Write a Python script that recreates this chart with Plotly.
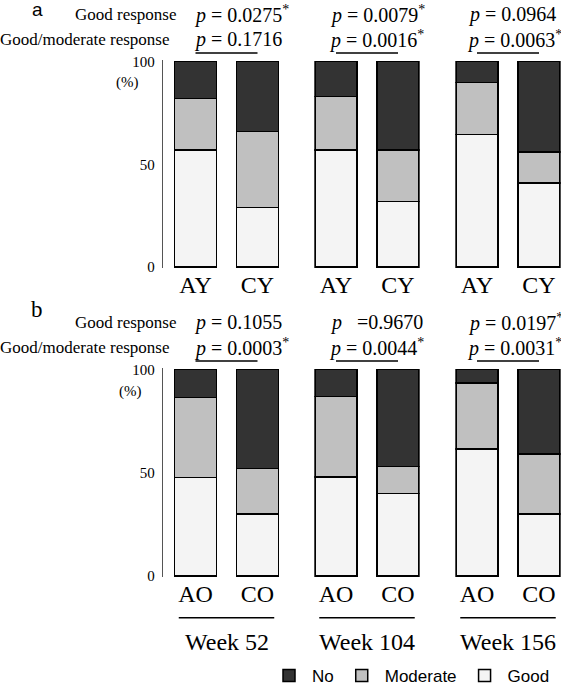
import plotly.graph_objects as go

# Response rates (%)
weeks = ["Week 52", "Week 104", "Week 156"]
groups_a = ["AY", "CY"]
groups_b = ["AO", "CO"]

good_a = [[57, 29], [57, 32], [64.5, 41]]
moderate_a = [[25, 37], [26, 25], [25.5, 15]]
no_a = [[18, 34], [17, 43], [10, 44]]

good_b = [[47.6, 30], [48, 40], [61.5, 30]]
moderate_b = [[38.7, 22], [39, 13], [32, 29]]
no_b = [[13.7, 48], [13, 47], [6.5, 41]]

# p-values printed above each week (text after the "p")
p_good_a = ["= 0.0275*", "= 0.0079*", "= 0.0964"]
p_gm_a = ["= 0.1716", "= 0.0016*", "= 0.0063*"]
p_good_b = ["= 0.1055", "\u00a0 =0.9670", "= 0.0197*"]
p_gm_b = ["= 0.0003*", "= 0.0044*", "= 0.0031*"]

W, H = 561, 685
SERIF = "Liberation Serif"
SANS = "Liberation Sans"
colors = {"No": "#333333", "Moderate": "#c0c0c0", "Good": "#f4f4f4"}


def px_x(x):
    return x / W


def px_y(y):
    return 1 - y / H


def p_text(s):
    return "<i>p</i> " + s.replace("*", "<sup>*</sup>")


def note(x, y, text, size, family=SERIF, xanchor="center"):
    return dict(xref="paper", yref="paper", x=px_x(x), y=px_y(y), text=text,
                xanchor=xanchor, yanchor="middle", showarrow=False,
                font=dict(family=family, size=size, color="black"))


fig = go.Figure()

# x domains of the three week columns (pixels)
col_dom = [(173.8, 279.2), (314.3, 419.7), (455.3, 560.7)]
# y domains of the two panels (pixels, top/bottom)
row_dom = [(60.3, 268.4), (368.0, 577.4)]

panels = [
    (groups_a, good_a, moderate_a, no_a),
    (groups_b, good_b, moderate_b, no_b),
]

layout = {}
for r, (groups, good, moderate, no) in enumerate(panels):
    for c in range(3):
        i = r * 3 + c + 1
        xa = "x" if i == 1 else f"x{i}"
        ya = "y" if i == 1 else f"y{i}"
        for name, vals in [("Good", good), ("Moderate", moderate), ("No", no)]:
            fig.add_bar(
                x=groups,
                y=vals[c],
                name=name,
                xaxis=xa,
                yaxis=ya,
                width=0.67,
                marker=dict(color=colors[name], line=dict(color="black", width=1.5)),
                showlegend=(i == 1),
                legendgroup=name,
            )
        layout[f"xaxis{i}"] = dict(
            domain=[px_x(col_dom[c][0]), min(px_x(col_dom[c][1]), 1)],
            range=[-0.35, 1.35],
            anchor=ya,
            showline=False,
            showgrid=False,
            zeroline=False,
            ticks="",
            tickfont=dict(family=SERIF, size=24, color="black"),
            ticklabelstandoff=0,
        )
        layout[f"yaxis{i}"] = dict(
            domain=[px_y(row_dom[r][1]), px_y(row_dom[r][0])],
            range=[-0.7, 100.7],
            anchor="free",
            position=px_x(161.7),
            showgrid=False,
            zeroline=False,
            showline=(c == 0),
            linecolor="#555555",
            linewidth=1,
            showticklabels=(c == 0),
            tickvals=[0, 50, 100],
            ticks="",
            tickfont=dict(family=SERIF, size=15, color="black"),
            ticklabelstandoff=4,
        )

annotations = []
shapes = []

# panel letters
annotations.append(note(37, 9, "a", 19, family=SANS))
annotations.append(note(37, 309, "b", 23))

# (%) under the 100 tick
for xc, yc in [(127, 83), (130.5, 392)]:
    annotations.append(note(xc, yc, "(%)", 15))

# header rows with p-values
header_y = [(15, 39, 53), (322.7, 347.7, 361)]
p_rows = [(p_good_a, p_gm_a), (p_good_b, p_gm_b)]
p_x1 = [192, 328, 466]
p_x2 = [192, 327, 465]
for r in range(2):
    y1, y2, yl = header_y[r]
    annotations.append(note(178.5, y1, "Good response", 17, xanchor="right"))
    annotations.append(note(171, y2, "Good/moderate response", 17, xanchor="right"))
    for c in range(3):
        i = r * 3 + c + 1
        xa = "x" if i == 1 else f"x{i}"
        annotations.append(note(p_x1[c], y1, p_text(p_rows[r][0][c]), 20, xanchor="left"))
        annotations.append(note(p_x2[c], y2, p_text(p_rows[r][1][c]), 20, xanchor="left"))
        shapes.append(dict(type="line", xref=xa, yref="paper", x0=0, x1=1,
                           y0=px_y(yl), y1=px_y(yl), line=dict(color="black", width=1.5)))

# week labels under panel b
for c, wk in enumerate(weeks):
    xa = f"x{4 + c}"
    shapes.append(dict(type="line", xref=xa, yref="paper", x0=-0.27, x1=1.27,
                       y0=px_y(617.7), y1=px_y(617.7), line=dict(color="black", width=1.5)))
    annotations.append(dict(xref=xa, yref="paper", x=0.5, y=px_y(641.5), text=wk,
                            xanchor="center", yanchor="middle", showarrow=False,
                            font=dict(family=SERIF, size=24, color="black")))

fig.update_layout(
    **layout,
    barmode="stack",
    width=W,
    height=H,
    margin=dict(l=0, r=0, t=0, b=0, autoexpand=False),
    paper_bgcolor="white",
    plot_bgcolor="white",
    annotations=annotations,
    shapes=shapes,
    showlegend=True,
    legend=dict(
        orientation="h",
        traceorder="reversed",
        itemwidth=36,
        x=px_x(266),
        xanchor="left",
        y=px_y(676),
        yanchor="middle",
        font=dict(family=SANS, size=17, color="black"),
        bgcolor="rgba(0,0,0,0)",
    ),
)

fig.write_html("out.html", config={"displayModeBar": False},
               post_script="document.body.style.margin = '0';")
